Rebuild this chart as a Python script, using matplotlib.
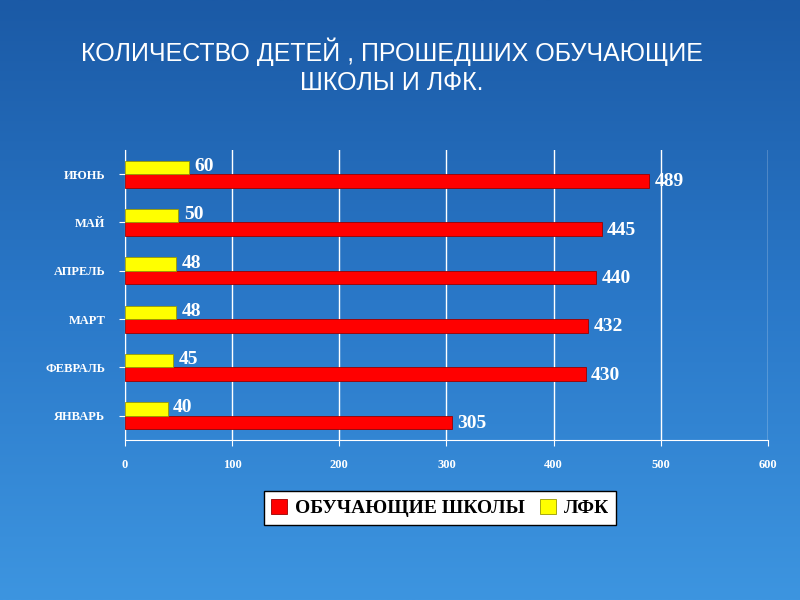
import numpy as np
import matplotlib
matplotlib.use("Agg")
import matplotlib.pyplot as plt

months = ["ЯНВАРЬ", "ФЕВРАЛЬ", "МАРТ", "АПРЕЛЬ", "МАЙ", "ИЮНЬ"]
schools = [305, 430, 432, 440, 445, 489]
lfk = [40, 45, 48, 48, 50, 60]
ticks = [0, 100, 200, 300, 400, 500, 600]

fig = plt.figure(figsize=(8, 6), dpi=100)

# blue gradient background
bg = fig.add_axes([0, 0, 1, 1], zorder=-10)
grad = np.linspace(0, 1, 256).reshape(-1, 1)
cmap = matplotlib.colors.LinearSegmentedColormap.from_list("bg", ["#1b5aa6", "#2a78c8", "#3d95e0"])
bg.imshow(grad, aspect="auto", cmap=cmap, extent=[0, 1, 0, 1], origin="upper")
bg.axis("off")

fig.text(0.49, 0.89, "КОЛИЧЕСТВО ДЕТЕЙ , ПРОШЕДШИХ ОБУЧАЮЩИЕ\nШКОЛЫ И ЛФК.",
         ha="center", va="center", color="white", fontsize=18, linespacing=1.25,
         fontfamily="Liberation Sans")

ax = fig.add_axes([0.156, 0.267, 0.804, 0.483])
ax.patch.set_alpha(0)
y = np.arange(len(months))
h = 0.28
ax.barh(y - h / 2, schools, h, color="#ff0000", edgecolor="#990000", linewidth=0.6,
        label="ОБУЧАЮЩИЕ ШКОЛЫ", zorder=3)
ax.barh(y + h / 2, lfk, h, color="#ffff00", edgecolor="#999900", linewidth=0.6,
        label="ЛФК", zorder=3)

font = dict(fontfamily="Liberation Serif", fontweight="bold", color="white")
for yi, v in zip(y, schools):
    ax.text(v + 5, yi - h / 2 - 0.02, str(v), va="center", fontsize=14, **font)
for yi, v in zip(y, lfk):
    ax.text(v + 5, yi + h / 2 + 0.02, str(v), va="center", fontsize=14, **font)

ax.set_xlim(0, 600)
ax.set_ylim(-0.5, 5.5)
ax.set_xticks(ticks)
ax.set_xticklabels([str(t) for t in ticks], fontsize=9, **font)
ax.set_yticks(y)
ax.set_yticklabels(months, fontsize=9, **font)
ax.grid(axis="x", color="white", linewidth=1, zorder=0)
for s in ["top", "right"]:
    ax.spines[s].set_visible(False)
for s in ["left", "bottom"]:
    ax.spines[s].set_color("white")
ax.tick_params(colors="white", length=4, pad=10)

leg = fig.legend(loc="center", bbox_to_anchor=(0.55, 0.153), ncol=2, frameon=True,
                 fancybox=False, edgecolor="black", framealpha=1, handlelength=0.8,
                 handleheight=0.8, columnspacing=0.8, handletextpad=0.4,
                 prop={"family": "Liberation Serif", "weight": "bold", "size": 14})
leg.get_frame().set_facecolor("white")

fig.savefig("out.png", dpi=100)
